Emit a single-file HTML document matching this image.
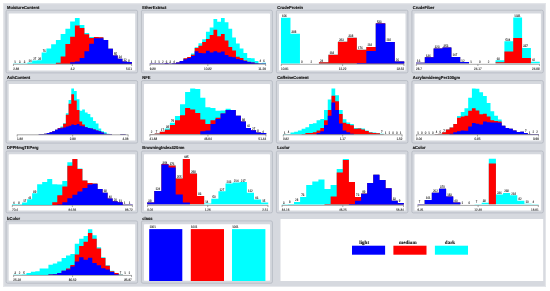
<!DOCTYPE html>
<html><head><meta charset="utf-8"><title>Attribute histograms</title>
<style>html,body{margin:0;padding:0;background:#fff;overflow:hidden}svg{display:block}text{font-family:"Liberation Sans",sans-serif;text-rendering:geometricPrecision}.t{font-weight:bold;font-size:4.3px;fill:#111;stroke:#111;stroke-width:0.12px}.n{font-size:3.5px;fill:#000;stroke:#000;stroke-width:0.06px}.a{font-size:3.6px;fill:#000;stroke:#000;stroke-width:0.07px}.l{font-family:"Liberation Serif",serif;font-weight:bold;font-size:5px;fill:#111;stroke:#111;stroke-width:0.1px}</style></head><body>
<svg width="550" height="291" viewBox="0 0 550 291">
<defs><clipPath id="c0"><rect x="0" y="0" width="550" height="70.6"/></clipPath><clipPath id="c1"><rect x="0" y="0" width="550" height="140.8"/></clipPath><clipPath id="c2"><rect x="0" y="0" width="550" height="210.8"/></clipPath><clipPath id="c3"><rect x="0" y="0" width="550" height="280.9"/></clipPath></defs>
<defs><filter id="bl" x="-5%" y="-10%" width="110%" height="120%"><feGaussianBlur stdDeviation="0.6"/></filter></defs>
<rect width="550" height="291" fill="#fff"/>
<rect x="3.3" y="3.2" width="542.6" height="283.8" fill="#d6d9df"/>
<rect x="3.8" y="3.7" width="541.6" height="282.8" fill="none" stroke="#e4e6ea" stroke-width="1"/>
<rect x="6.1" y="10.2" width="131.5" height="62.7" rx="1.5" fill="#d5d8de" stroke="#a8adb7" stroke-width="0.6"/>
<rect x="8.7" y="13.5" width="126.5" height="56.9" rx="0.6" fill="#fff" filter="url(#bl)"/>
<text class="t" x="7" y="8.6" textLength="32.26" lengthAdjust="spacingAndGlyphs">MoistureContent</text>
<path d="M13.15 63.8V63.5H17.9V63.4H22.65V63.4H27.4V62.4H32.15V60.6H36.9V60.2H41.65V52.6H46.4V48.5H51.15V44.3H55.9V40.1H60.65V33.9H65.4V28.8H70.15V21.5H74.9V17.9H79.65V25.1H84.4V32.9H89.15V37.1H93.9V37H98.65V37.2H103.4V40.1H108.15V48.8H112.9V55.5H117.65V58.7H122.4V61.5H127.15V62.1H131.9V63.8Z" fill="#00ffff"/>
<path d="M55.9 63.8V62.8H60.65V56.4H65.4V44.1H70.15V36.7H74.9V25.5H79.65V28.1H84.4V34.3H89.15V38.1H93.9V37H98.65V37.2H103.4V40.1H108.15V48.8H112.9V55.5H117.65V58.7H122.4V61.5H127.15V62.1H131.9V63.8Z" fill="#ff0000"/>
<path d="M70.15 63.8V62.3H74.9V61.5H79.65V57.9H84.4V51.3H89.15V43.8H93.9V38.3H98.65V38.3H103.4V40.1H108.15V48.8H112.9V55.5H117.65V58.7H122.4V61.5H127.15V62.1H131.9V63.8Z" fill="#0000ff"/>
<text class="n" x="14.25" y="62.9" textLength="1.6" lengthAdjust="spacingAndGlyphs">1</text>
<text class="n" x="19" y="62.8" textLength="1.6" lengthAdjust="spacingAndGlyphs">3</text>
<text class="n" x="23.75" y="62.8" textLength="1.6" lengthAdjust="spacingAndGlyphs">3</text>
<text class="n" x="28.5" y="61.8" textLength="3.2" lengthAdjust="spacingAndGlyphs">14</text>
<text class="n" x="33.25" y="60" textLength="3.2" lengthAdjust="spacingAndGlyphs">27</text>
<text class="n" x="38" y="59.6" textLength="3.2" lengthAdjust="spacingAndGlyphs">28</text>
<text class="n" x="42.75" y="52" textLength="3.2" lengthAdjust="spacingAndGlyphs">76</text>
<text class="n" x="114" y="54.9" textLength="3.2" lengthAdjust="spacingAndGlyphs">55</text>
<text class="n" x="118.75" y="58.1" textLength="3.2" lengthAdjust="spacingAndGlyphs">34</text>
<text class="n" x="123.5" y="60.9" textLength="3.2" lengthAdjust="spacingAndGlyphs">12</text>
<text class="n" x="128.25" y="61.5" textLength="1.6" lengthAdjust="spacingAndGlyphs">8</text>
<path d="M13.15 64.3H131.9M13.45 64.3v1.7M72.53 64.3v1.7M131.6 64.3v1.7" stroke="#505050" stroke-width="0.5" fill="none"/>
<g clip-path="url(#c0)">
<text class="a" x="13.15" y="69.8" textLength="5.95" lengthAdjust="spacingAndGlyphs">2.88</text>
<text class="a" x="70.4" y="69.8" textLength="4.25" lengthAdjust="spacingAndGlyphs">4.2</text>
<text class="a" x="125.95" y="69.8" textLength="5.95" lengthAdjust="spacingAndGlyphs">5.51</text>
</g>
<rect x="141.4" y="10.2" width="131" height="62.7" rx="1.5" fill="#d5d8de" stroke="#a8adb7" stroke-width="0.6"/>
<rect x="144" y="13.5" width="126" height="56.9" rx="0.6" fill="#fff" filter="url(#bl)"/>
<text class="t" x="142.3" y="8.6" textLength="24.16" lengthAdjust="spacingAndGlyphs">EtherExtract</text>
<path d="M149.7 63.8V63.6H153.45V63.5H157.2V63.6H160.95V63.5H164.7V63.2H168.45V63.4H172.2V63.3H175.95V62.6H179.7V61.1H183.45V58.3H187.2V57.1H190.95V53.6H194.7V47.3H198.45V43.2H202.2V39.2H205.95V31.8H209.7V27.4H213.45V18.9H217.2V21.7H220.95V17.9H224.7V22.3H228.45V28.8H232.2V37.4H235.95V43.6H239.7V48.4H243.45V52.9H247.2V58H250.95V58.3H254.7V61.1H258.45V63H262.2V62.8H265.95V63.8Z" fill="#00ffff"/>
<path d="M149.7 63.8V63.6H153.45V63.5H157.2V63.6H160.95V63.5H164.7V63.2H168.45V63.4H172.2V63.3H175.95V62.6H179.7V61.1H183.45V58.3H187.2V57.1H190.95V54.8H194.7V48H198.45V45.8H202.2V42.1H205.95V39H209.7V35H213.45V29.7H217.2V36.2H220.95V33.9H224.7V40.6H228.45V46.9H232.2V50.6H235.95V56.8H239.7V58.1H243.45V60.4H247.2V61.8H250.95V62.4H254.7V63.2H258.45V63.5H262.2V63.5H265.95V63.8Z" fill="#ff0000"/>
<path d="M149.7 63.8V63.6H153.45V63.5H157.2V63.6H160.95V63.5H164.7V63.2H168.45V63.4H172.2V63.3H175.95V62.6H179.7V61.1H183.45V59.3H187.2V58.1H190.95V55.9H194.7V51.3H198.45V53.1H202.2V53.2H205.95V50.7H209.7V52.6H213.45V51.3H217.2V52.4H220.95V51.6H224.7V55H228.45V56.8H232.2V57.3H235.95V59H239.7V60.1H243.45V61.1H247.2V61.9H250.95V62.4H254.7V63.2H258.45V63.5H262.2V63.5H265.95V63.8Z" fill="#0000ff"/>
<text class="n" x="150.8" y="63" textLength="1.6" lengthAdjust="spacingAndGlyphs">1</text>
<text class="n" x="154.55" y="62.9" textLength="1.6" lengthAdjust="spacingAndGlyphs">2</text>
<text class="n" x="158.3" y="63" textLength="1.6" lengthAdjust="spacingAndGlyphs">1</text>
<text class="n" x="162.05" y="62.9" textLength="1.6" lengthAdjust="spacingAndGlyphs">2</text>
<text class="n" x="165.8" y="62.6" textLength="1.6" lengthAdjust="spacingAndGlyphs">6</text>
<text class="n" x="169.55" y="62.8" textLength="1.6" lengthAdjust="spacingAndGlyphs">3</text>
<text class="n" x="173.3" y="62.7" textLength="1.6" lengthAdjust="spacingAndGlyphs">4</text>
<text class="n" x="259.55" y="62.4" textLength="1.6" lengthAdjust="spacingAndGlyphs">4</text>
<text class="n" x="263.3" y="62.2" textLength="1.6" lengthAdjust="spacingAndGlyphs">6</text>
<path d="M149.7 64.3H265.95M150 64.3v1.7M207.82 64.3v1.7M265.65 64.3v1.7" stroke="#505050" stroke-width="0.5" fill="none"/>
<g clip-path="url(#c0)">
<text class="a" x="149.7" y="69.8" textLength="5.95" lengthAdjust="spacingAndGlyphs">9.38</text>
<text class="a" x="204" y="69.8" textLength="7.65" lengthAdjust="spacingAndGlyphs">10.32</text>
<text class="a" x="258.3" y="69.8" textLength="7.65" lengthAdjust="spacingAndGlyphs">11.26</text>
</g>
<rect x="276.4" y="10.2" width="131.5" height="62.7" rx="1.5" fill="#d5d8de" stroke="#a8adb7" stroke-width="0.6"/>
<rect x="279" y="13.5" width="126.5" height="56.9" rx="0.6" fill="#fff" filter="url(#bl)"/>
<text class="t" x="277.3" y="8.6" textLength="25.72" lengthAdjust="spacingAndGlyphs">CrudeProtein</text>
<path d="M281 63.4V17.8H290.48V33.8H299.96V63.4ZM318.92 63.4V62.2H328.4V54.8H337.88V41.8H347.36V37.7H356.84V49.8H366.32V47H375.8V23.3H385.28V41.9H394.76V61.6H404.24V63.4Z" fill="#00ffff"/>
<path d="M318.92 63.4V62.2H328.4V54.8H337.88V41.8H347.36V37.7H356.84V49.8H366.32V47H375.8V23.3H385.28V41.9H394.76V61.6H404.24V63.4Z" fill="#ff0000"/>
<path d="M356.84 63.4V63.1H366.32V51.1H375.8V23.6H385.28V41.9H394.76V61.6H404.24V63.4Z" fill="#0000ff"/>
<text class="n" x="282.1" y="17.2" textLength="4.8" lengthAdjust="spacingAndGlyphs">606</text>
<text class="n" x="291.58" y="33.2" textLength="4.8" lengthAdjust="spacingAndGlyphs">388</text>
<text class="n" x="301.06" y="62.8" textLength="1.6" lengthAdjust="spacingAndGlyphs">0</text>
<text class="n" x="310.54" y="62.8" textLength="1.6" lengthAdjust="spacingAndGlyphs">2</text>
<text class="n" x="320.02" y="61.6" textLength="3.2" lengthAdjust="spacingAndGlyphs">24</text>
<text class="n" x="329.5" y="54.2" textLength="4.8" lengthAdjust="spacingAndGlyphs">118</text>
<text class="n" x="338.98" y="41.2" textLength="4.8" lengthAdjust="spacingAndGlyphs">283</text>
<text class="n" x="348.46" y="37.1" textLength="4.8" lengthAdjust="spacingAndGlyphs">338</text>
<text class="n" x="357.94" y="49.2" textLength="4.8" lengthAdjust="spacingAndGlyphs">176</text>
<text class="n" x="367.42" y="46.4" textLength="4.8" lengthAdjust="spacingAndGlyphs">218</text>
<text class="n" x="376.9" y="22.7" textLength="4.8" lengthAdjust="spacingAndGlyphs">533</text>
<text class="n" x="386.38" y="41.3" textLength="4.8" lengthAdjust="spacingAndGlyphs">282</text>
<text class="n" x="395.86" y="61" textLength="3.2" lengthAdjust="spacingAndGlyphs">26</text>
<path d="M281 64.3H404.24M281.3 64.3v1.7M342.62 64.3v1.7M403.94 64.3v1.7" stroke="#505050" stroke-width="0.5" fill="none"/>
<g clip-path="url(#c0)">
<text class="a" x="281" y="69.8" textLength="7.65" lengthAdjust="spacingAndGlyphs">10.91</text>
<text class="a" x="338.8" y="69.8" textLength="7.65" lengthAdjust="spacingAndGlyphs">12.22</text>
<text class="a" x="396.59" y="69.8" textLength="7.65" lengthAdjust="spacingAndGlyphs">13.52</text>
</g>
<rect x="411.9" y="10.2" width="131.4" height="62.7" rx="1.5" fill="#d5d8de" stroke="#a8adb7" stroke-width="0.6"/>
<rect x="414.5" y="13.5" width="126.4" height="56.9" rx="0.6" fill="#fff" filter="url(#bl)"/>
<text class="t" x="412.8" y="8.6" textLength="21.66" lengthAdjust="spacingAndGlyphs">CrudeFiber</text>
<path d="M416 63.2V62.8H424.84V57.2H433.68V48.6H442.52V47.6H451.36V57H460.2V62.1H469.04V63.2ZM495.56 63.2V60.3H504.4V41.2H513.24V17.4H522.08V47.9H530.92V61.7H539.76V63.2Z" fill="#00ffff"/>
<path d="M416 63.2V62.8H424.84V57.2H433.68V48.6H442.52V47.6H451.36V57H460.2V62.1H469.04V63.2ZM495.56 63.2V62.3H504.4V51.4H513.24V38H522.08V58.1H530.92V63.2Z" fill="#ff0000"/>
<path d="M416 63.2V62.8H424.84V57.2H433.68V48.6H442.52V47.6H451.36V57H460.2V62.1H469.04V63.2Z" fill="#0000ff"/>
<text class="n" x="417.1" y="62.2" textLength="3.2" lengthAdjust="spacingAndGlyphs">16</text>
<text class="n" x="425.94" y="56.6" textLength="4.8" lengthAdjust="spacingAndGlyphs">136</text>
<text class="n" x="434.78" y="48" textLength="4.8" lengthAdjust="spacingAndGlyphs">323</text>
<text class="n" x="443.62" y="47" textLength="4.8" lengthAdjust="spacingAndGlyphs">353</text>
<text class="n" x="452.46" y="56.4" textLength="4.8" lengthAdjust="spacingAndGlyphs">147</text>
<text class="n" x="461.3" y="61.5" textLength="3.2" lengthAdjust="spacingAndGlyphs">12</text>
<text class="n" x="470.14" y="62.6" textLength="1.6" lengthAdjust="spacingAndGlyphs">1</text>
<text class="n" x="478.98" y="62.6" textLength="1.6" lengthAdjust="spacingAndGlyphs">0</text>
<text class="n" x="487.82" y="62.6" textLength="1.6" lengthAdjust="spacingAndGlyphs">2</text>
<text class="n" x="496.66" y="59.7" textLength="3.2" lengthAdjust="spacingAndGlyphs">60</text>
<text class="n" x="505.5" y="40.6" textLength="4.8" lengthAdjust="spacingAndGlyphs">504</text>
<text class="n" x="514.34" y="16.8" textLength="6.4" lengthAdjust="spacingAndGlyphs">1031</text>
<text class="n" x="523.18" y="47.3" textLength="4.8" lengthAdjust="spacingAndGlyphs">337</text>
<text class="n" x="532.02" y="61.1" textLength="3.2" lengthAdjust="spacingAndGlyphs">42</text>
<path d="M416 64.3H539.76M416.3 64.3v1.7M477.88 64.3v1.7M539.46 64.3v1.7" stroke="#505050" stroke-width="0.5" fill="none"/>
<g clip-path="url(#c0)">
<text class="a" x="416" y="69.8" textLength="5.95" lengthAdjust="spacingAndGlyphs">23.7</text>
<text class="a" x="474.06" y="69.8" textLength="7.65" lengthAdjust="spacingAndGlyphs">24.17</text>
<text class="a" x="532.11" y="69.8" textLength="7.65" lengthAdjust="spacingAndGlyphs">24.63</text>
</g>
<rect x="6.1" y="80.6" width="131.5" height="62.5" rx="1.5" fill="#d5d8de" stroke="#a8adb7" stroke-width="0.6"/>
<rect x="8.7" y="83.9" width="126.5" height="56.7" rx="0.6" fill="#fff" filter="url(#bl)"/>
<text class="t" x="7" y="78.9" textLength="23.01" lengthAdjust="spacingAndGlyphs">AshContent</text>
<path d="M38.66 134.3V134.1H41.38V134.1H44.1V133.8H46.82V133H49.54V132.35H52.26V131.3H54.98V129.8H57.7V127.9H60.42V126.6H63.14V123.2H65.86V113.2H68.58V99.9H71.3V88.5H74.02V91H76.74V99.3H79.46V110.7H82.18V109.5H84.9V112.6H87.62V113.9H90.34V117.2H93.06V120.9H95.78V123.4H98.5V128.5H101.22V131.3H103.94V132.35H106.66V133.8H109.38V133.9H112.1V134.3ZM120.26 134.3V134H122.98V134H125.7V134.3Z" fill="#00ffff"/>
<path d="M38.66 134.3V134.1H41.38V134.1H44.1V133.8H46.82V133H49.54V132.35H52.26V131.3H54.98V129.8H57.7V127.9H60.42V127.5H63.14V123.8H65.86V114.7H68.58V103.7H71.3V94.2H74.02V100.5H76.74V110.1H79.46V121.5H82.18V124.5H84.9V127.3H87.62V127.9H90.34V128.5H93.06V129.4H95.78V130.4H98.5V131.3H101.22V132.6H103.94V133.7H106.66V134H109.38V134.1H112.1V134.3ZM120.26 134.3V134H122.98V134H125.7V134.3Z" fill="#ff0000"/>
<path d="M38.66 134.3V134.1H41.38V134.1H44.1V133.8H46.82V133H49.54V132.35H52.26V131.3H54.98V129.8H57.7V128.5H60.42V128.3H63.14V127.5H65.86V126.6H68.58V125.7H71.3V124.6H74.02V125H76.74V124.1H79.46V125.7H82.18V126.2H84.9V127.3H87.62V127.9H90.34V128.5H93.06V129.4H95.78V130.4H98.5V131.3H101.22V132.6H103.94V133.7H106.66V134H109.38V134.1H112.1V134.3ZM120.26 134.3V134H122.98V134H125.7V134.3Z" fill="#0000ff"/>
<path d="M16.9 134.8H128.42M17.2 134.8v1.7M72.66 134.8v1.7M128.12 134.8v1.7" stroke="#505050" stroke-width="0.5" fill="none"/>
<g clip-path="url(#c1)">
<text class="a" x="16.9" y="140.3" textLength="5.95" lengthAdjust="spacingAndGlyphs">1.88</text>
<text class="a" x="69.69" y="140.3" textLength="5.95" lengthAdjust="spacingAndGlyphs">2.98</text>
<text class="a" x="122.47" y="140.3" textLength="5.95" lengthAdjust="spacingAndGlyphs">4.08</text>
</g>
<rect x="141.4" y="80.6" width="131" height="62.5" rx="1.5" fill="#d5d8de" stroke="#a8adb7" stroke-width="0.6"/>
<rect x="144" y="83.9" width="126" height="56.7" rx="0.6" fill="#fff" filter="url(#bl)"/>
<text class="t" x="142.3" y="78.9" textLength="8.12" lengthAdjust="spacingAndGlyphs">NFE</text>
<path d="M149.6 134.3V134H154.67V133.6H159.74V131.7H164.81V128.5H169.88V122.8H174.95V116H180.02V104.2H185.09V91.9H190.16V88.5H195.23V89.1H200.3V97.7H205.37V107.2H210.44V107.9H215.51V110.8H220.58V110.6H225.65V108.8H230.72V110.1H235.79V115.8H240.86V121.5H245.93V127.9H251V130.2H256.07V132.6H261.14V133.1H266.21V134.3Z" fill="#00ffff"/>
<path d="M149.6 134.3V134H154.67V133.6H159.74V131.7H164.81V129.8H169.88V125H174.95V120.3H180.02V115.2H185.09V108H190.16V109.5H195.23V113H200.3V119.6H205.37V124.1H210.44V120.3H215.51V117.7H220.58V113.4H225.65V110.1H230.72V110.1H235.79V115.8H240.86V121.5H245.93V127.9H251V130.2H256.07V132.6H261.14V133.1H266.21V134.3Z" fill="#ff0000"/>
<path d="M200.3 134.3V131.3H205.37V130.4H210.44V124.1H215.51V119H220.58V113.4H225.65V110.1H230.72V110.1H235.79V115.8H240.86V121.5H245.93V127.9H251V130.2H256.07V132.6H261.14V133.1H266.21V134.3Z" fill="#0000ff"/>
<text class="n" x="150.7" y="133.4" textLength="1.6" lengthAdjust="spacingAndGlyphs">2</text>
<text class="n" x="155.77" y="133" textLength="1.6" lengthAdjust="spacingAndGlyphs">7</text>
<text class="n" x="160.84" y="131.1" textLength="3.2" lengthAdjust="spacingAndGlyphs">17</text>
<text class="n" x="165.91" y="127.9" textLength="3.2" lengthAdjust="spacingAndGlyphs">39</text>
<text class="n" x="170.98" y="122.2" textLength="3.2" lengthAdjust="spacingAndGlyphs">79</text>
<text class="n" x="241.96" y="120.9" textLength="3.2" lengthAdjust="spacingAndGlyphs">88</text>
<text class="n" x="247.03" y="127.3" textLength="3.2" lengthAdjust="spacingAndGlyphs">42</text>
<text class="n" x="252.1" y="129.6" textLength="3.2" lengthAdjust="spacingAndGlyphs">27</text>
<text class="n" x="257.17" y="132" textLength="1.6" lengthAdjust="spacingAndGlyphs">8</text>
<text class="n" x="262.24" y="132.5" textLength="1.6" lengthAdjust="spacingAndGlyphs">4</text>
<path d="M149.6 134.8H266.21M149.9 134.8v1.7M207.91 134.8v1.7M265.91 134.8v1.7" stroke="#505050" stroke-width="0.5" fill="none"/>
<g clip-path="url(#c1)">
<text class="a" x="149.6" y="140.3" textLength="7.65" lengthAdjust="spacingAndGlyphs">41.83</text>
<text class="a" x="204.08" y="140.3" textLength="7.65" lengthAdjust="spacingAndGlyphs">46.64</text>
<text class="a" x="258.56" y="140.3" textLength="7.65" lengthAdjust="spacingAndGlyphs">51.44</text>
</g>
<rect x="276.4" y="80.6" width="131.5" height="62.5" rx="1.5" fill="#d5d8de" stroke="#a8adb7" stroke-width="0.6"/>
<rect x="279" y="83.9" width="126.5" height="56.7" rx="0.6" fill="#fff" filter="url(#bl)"/>
<text class="t" x="277.3" y="78.9" textLength="31.35" lengthAdjust="spacingAndGlyphs">CaffeineContent</text>
<path d="M283 134.3V134.1H286.73V133.9H290.46V132.6H294.19V131.7H297.92V130.4H301.65V128.8H305.38V127.3H309.11V124.1H312.84V123.2H316.57V120.3H320.3V119H324.03V110.1H327.76V99.5H331.49V88.5H335.22V95.2H338.95V110.1H342.68V119.2H346.41V122.4H350.14V124.1H353.87V127.9H357.6V127.9H361.33V128.5H365.06V130.4H368.79V132.1H372.52V132.6H376.25V133H379.98V133.7H383.71V134.2H387.44V134.3Z" fill="#00ffff"/>
<path d="M301.65 134.3V133.9H305.38V133.1H309.11V133H312.84V132.35H316.57V130.4H320.3V127.9H324.03V120.3H327.76V110.1H331.49V95.7H335.22V101.2H338.95V114H342.68V122.8H346.41V124.1H350.14V125.3H353.87V128.8H357.6V128.5H361.33V129.5H365.06V131.1H368.79V132.4H372.52V132.9H376.25V133.2H379.98V133.9H383.71V134.2H387.44V134.3Z" fill="#ff0000"/>
<path d="M316.57 134.3V133H320.3V131.3H324.03V125H327.76V115.8H331.49V102.5H335.22V110.1H338.95V123.4H342.68V130.4H346.41V132.35H350.14V133.8H353.87V134.3Z" fill="#0000ff"/>
<text class="n" x="284.1" y="133.5" textLength="1.6" lengthAdjust="spacingAndGlyphs">1</text>
<text class="n" x="287.83" y="133.3" textLength="1.6" lengthAdjust="spacingAndGlyphs">4</text>
<text class="n" x="381.08" y="133.1" textLength="1.6" lengthAdjust="spacingAndGlyphs">7</text>
<text class="n" x="384.81" y="133.6" textLength="1.6" lengthAdjust="spacingAndGlyphs">1</text>
<text class="n" x="388.54" y="133.7" textLength="1.6" lengthAdjust="spacingAndGlyphs">1</text>
<text class="n" x="392.27" y="133.7" textLength="1.6" lengthAdjust="spacingAndGlyphs">0</text>
<text class="n" x="396" y="133.7" textLength="1.6" lengthAdjust="spacingAndGlyphs">0</text>
<text class="n" x="399.73" y="133.7" textLength="1.6" lengthAdjust="spacingAndGlyphs">1</text>
<path d="M283 134.8H402.36M283.3 134.8v1.7M342.68 134.8v1.7M402.06 134.8v1.7" stroke="#505050" stroke-width="0.5" fill="none"/>
<g clip-path="url(#c1)">
<text class="a" x="283" y="140.3" textLength="5.95" lengthAdjust="spacingAndGlyphs">0.82</text>
<text class="a" x="339.7" y="140.3" textLength="5.95" lengthAdjust="spacingAndGlyphs">1.17</text>
<text class="a" x="396.41" y="140.3" textLength="5.95" lengthAdjust="spacingAndGlyphs">1.52</text>
</g>
<rect x="411.9" y="80.6" width="131.4" height="62.5" rx="1.5" fill="#d5d8de" stroke="#a8adb7" stroke-width="0.6"/>
<rect x="414.5" y="83.9" width="126.4" height="56.7" rx="0.6" fill="#fff" filter="url(#bl)"/>
<text class="t" x="412.8" y="78.9" textLength="47.4" lengthAdjust="spacingAndGlyphs">AcrylamidemgPer100gm</text>
<path d="M434.7 134.3V134H438.42V133.8H442.14V132.35H445.86V129.5H449.58V127.5H453.3V124.1H457.02V116H460.74V112.1H464.46V108.2H468.18V97.7H471.9V88.5H475.62V88.8H479.34V92.3H483.06V96.1H486.78V103.1H490.5V111.2H494.22V115.8H497.94V119.6H501.66V125.7H505.38V127.9H509.1V128.8H512.82V130.4H516.54V132.1H520.26V131.7H523.98V133H527.7V134.1H531.42V134H535.14V134H538.86V134.3Z" fill="#00ffff"/>
<path d="M434.7 134.3V134H438.42V133.8H442.14V132.35H445.86V129.5H449.58V127.5H453.3V124.1H457.02V117.7H460.74V116.4H464.46V115.8H468.18V110.8H471.9V108.2H475.62V110.4H479.34V114.2H483.06V113.7H486.78V116.4H490.5V120.3H494.22V120.9H497.94V121.5H501.66V125.7H505.38V127.9H509.1V128.8H512.82V130.4H516.54V132.1H520.26V131.7H523.98V133H527.7V134.1H531.42V134H535.14V134H538.86V134.3Z" fill="#ff0000"/>
<path d="M449.58 134.3V133.7H453.3V132.35H457.02V131.3H460.74V130.4H464.46V130.8H468.18V126.6H471.9V123.1H475.62V123.8H479.34V124.5H483.06V121.5H486.78V122.2H490.5V122.4H494.22V122.4H497.94V122.8H501.66V125.7H505.38V127.9H509.1V128.8H512.82V130.4H516.54V132.1H520.26V131.7H523.98V133H527.7V134.1H531.42V134H535.14V134H538.86V134.3Z" fill="#0000ff"/>
<text class="n" x="417.2" y="133.7" textLength="1.6" lengthAdjust="spacingAndGlyphs">1</text>
<text class="n" x="420.92" y="133.7" textLength="1.6" lengthAdjust="spacingAndGlyphs">0</text>
<text class="n" x="424.64" y="133.7" textLength="1.6" lengthAdjust="spacingAndGlyphs">0</text>
<text class="n" x="428.36" y="133.7" textLength="1.6" lengthAdjust="spacingAndGlyphs">1</text>
<text class="n" x="432.08" y="133.7" textLength="1.6" lengthAdjust="spacingAndGlyphs">0</text>
<text class="n" x="435.8" y="133.4" textLength="1.6" lengthAdjust="spacingAndGlyphs">4</text>
<text class="n" x="439.52" y="133.2" textLength="1.6" lengthAdjust="spacingAndGlyphs">6</text>
<text class="n" x="443.24" y="131.75" textLength="1.6" lengthAdjust="spacingAndGlyphs">7</text>
<text class="n" x="525.08" y="132.4" textLength="1.6" lengthAdjust="spacingAndGlyphs">7</text>
<text class="n" x="528.8" y="133.5" textLength="1.6" lengthAdjust="spacingAndGlyphs">1</text>
<text class="n" x="532.52" y="133.4" textLength="1.6" lengthAdjust="spacingAndGlyphs">2</text>
<text class="n" x="536.24" y="133.4" textLength="1.6" lengthAdjust="spacingAndGlyphs">2</text>
<path d="M416.1 134.8H538.86M416.4 134.8v1.7M477.48 134.8v1.7M538.56 134.8v1.7" stroke="#505050" stroke-width="0.5" fill="none"/>
<g clip-path="url(#c1)">
<text class="a" x="416.1" y="140.3" textLength="5.95" lengthAdjust="spacingAndGlyphs">0.04</text>
<text class="a" x="474.5" y="140.3" textLength="5.95" lengthAdjust="spacingAndGlyphs">0.35</text>
<text class="a" x="532.91" y="140.3" textLength="5.95" lengthAdjust="spacingAndGlyphs">0.66</text>
</g>
<rect x="6.1" y="151" width="131.5" height="61.9" rx="1.5" fill="#d5d8de" stroke="#a8adb7" stroke-width="0.6"/>
<rect x="8.7" y="154.3" width="126.5" height="56.3" rx="0.6" fill="#fff" filter="url(#bl)"/>
<text class="t" x="7" y="149.4" textLength="31.6" lengthAdjust="spacingAndGlyphs">DPPHmgTEPerg</text>
<path d="M12 204.9V204.6H17.03V204.4H22.06V202.6H27.09V199.2H32.12V193.2H37.15V184.3H42.18V182H47.21V179.1H52.24V184.2H57.27V184.4H62.3V181H67.33V162.3H72.36V159.1H77.39V168.6H82.42V180.4H87.45V183H92.48V183.6H97.51V189H102.54V192.8H107.57V198.5H112.6V201.3H117.63V202.35H122.66V204.7H127.69V204.7H132.72V204.9Z" fill="#00ffff"/>
<path d="M52.24 204.9V202.35H57.27V195.3H62.3V186.6H67.33V165.7H72.36V159.1H77.39V169H82.42V180.4H87.45V183H92.48V183.6H97.51V189H102.54V192.8H107.57V198.5H112.6V201.3H117.63V202.35H122.66V204.7H127.69V204.7H132.72V204.9Z" fill="#ff0000"/>
<path d="M57.27 204.9V204.4H62.3V202.35H67.33V198.3H72.36V194.7H77.39V191.5H82.42V188H87.45V184.5H92.48V184H97.51V189H102.54V192.8H107.57V198.5H112.6V201.3H117.63V202.35H122.66V204.7H127.69V204.7H132.72V204.9Z" fill="#0000ff"/>
<text class="n" x="13.1" y="204" textLength="1.6" lengthAdjust="spacingAndGlyphs">4</text>
<text class="n" x="18.13" y="203.8" textLength="1.6" lengthAdjust="spacingAndGlyphs">8</text>
<text class="n" x="23.16" y="202" textLength="3.2" lengthAdjust="spacingAndGlyphs">17</text>
<text class="n" x="28.19" y="198.6" textLength="3.2" lengthAdjust="spacingAndGlyphs">41</text>
<text class="n" x="33.22" y="192.6" textLength="3.2" lengthAdjust="spacingAndGlyphs">89</text>
<text class="n" x="103.64" y="192.2" textLength="3.2" lengthAdjust="spacingAndGlyphs">68</text>
<text class="n" x="108.67" y="197.9" textLength="3.2" lengthAdjust="spacingAndGlyphs">40</text>
<text class="n" x="113.7" y="200.7" textLength="3.2" lengthAdjust="spacingAndGlyphs">20</text>
<text class="n" x="118.73" y="201.75" textLength="3.2" lengthAdjust="spacingAndGlyphs">11</text>
<text class="n" x="123.76" y="204.1" textLength="1.6" lengthAdjust="spacingAndGlyphs">1</text>
<text class="n" x="128.79" y="204.1" textLength="1.6" lengthAdjust="spacingAndGlyphs">1</text>
<path d="M12 205.4H132.72M12.3 205.4v1.7M72.36 205.4v1.7M132.42 205.4v1.7" stroke="#505050" stroke-width="0.5" fill="none"/>
<g clip-path="url(#c2)">
<text class="a" x="12" y="210.9" textLength="5.95" lengthAdjust="spacingAndGlyphs">70.4</text>
<text class="a" x="68.53" y="210.9" textLength="7.65" lengthAdjust="spacingAndGlyphs">84.56</text>
<text class="a" x="125.07" y="210.9" textLength="7.65" lengthAdjust="spacingAndGlyphs">98.72</text>
</g>
<rect x="141.4" y="151" width="131" height="61.9" rx="1.5" fill="#d5d8de" stroke="#a8adb7" stroke-width="0.6"/>
<rect x="144" y="154.3" width="126" height="56.3" rx="0.6" fill="#fff" filter="url(#bl)"/>
<text class="t" x="142.3" y="149.4" textLength="42.18" lengthAdjust="spacingAndGlyphs">BrowningIndex420nm</text>
<path d="M147.2 204.2V202.4H154.32V191H161.44V164.1H168.56V165.6H175.68V178.6H182.8V159H189.92V173.6H197.04V196H204.16V203.5H211.28V198.7H218.4V191.3H225.52V183.5H232.64V182.5H239.76V182.1H246.88V192.7H254V199.6H261.12V202.4H268.24V204.2Z" fill="#00ffff"/>
<path d="M147.2 204.2V202.4H154.32V191H161.44V164.1H168.56V165.6H175.68V178.6H182.8V159H189.92V173.6H197.04V196H204.16V204.2Z" fill="#ff0000"/>
<path d="M147.2 204.2V202.4H154.32V191H161.44V164.6H168.56V167.6H175.68V194.4H182.8V202.4H189.92V204.2Z" fill="#0000ff"/>
<text class="n" x="148.3" y="201.8" textLength="3.2" lengthAdjust="spacingAndGlyphs">38</text>
<text class="n" x="155.42" y="190.4" textLength="4.8" lengthAdjust="spacingAndGlyphs">124</text>
<text class="n" x="162.54" y="163.5" textLength="4.8" lengthAdjust="spacingAndGlyphs">394</text>
<text class="n" x="169.66" y="165" textLength="4.8" lengthAdjust="spacingAndGlyphs">376</text>
<text class="n" x="176.78" y="178" textLength="4.8" lengthAdjust="spacingAndGlyphs">255</text>
<text class="n" x="183.9" y="158.4" textLength="4.8" lengthAdjust="spacingAndGlyphs">445</text>
<text class="n" x="191.02" y="173" textLength="4.8" lengthAdjust="spacingAndGlyphs">298</text>
<text class="n" x="198.14" y="195.4" textLength="3.2" lengthAdjust="spacingAndGlyphs">83</text>
<text class="n" x="205.26" y="202.9" textLength="3.2" lengthAdjust="spacingAndGlyphs">14</text>
<text class="n" x="212.38" y="198.1" textLength="3.2" lengthAdjust="spacingAndGlyphs">50</text>
<text class="n" x="219.5" y="190.7" textLength="4.8" lengthAdjust="spacingAndGlyphs">127</text>
<text class="n" x="226.62" y="182.9" textLength="4.8" lengthAdjust="spacingAndGlyphs">203</text>
<text class="n" x="233.74" y="181.9" textLength="4.8" lengthAdjust="spacingAndGlyphs">214</text>
<text class="n" x="240.86" y="181.5" textLength="4.8" lengthAdjust="spacingAndGlyphs">217</text>
<text class="n" x="247.98" y="192.1" textLength="4.8" lengthAdjust="spacingAndGlyphs">112</text>
<text class="n" x="255.1" y="199" textLength="3.2" lengthAdjust="spacingAndGlyphs">46</text>
<text class="n" x="262.22" y="201.8" textLength="3.2" lengthAdjust="spacingAndGlyphs">15</text>
<path d="M147.2 205.4H268.24M147.5 205.4v1.7M207.72 205.4v1.7M267.94 205.4v1.7" stroke="#505050" stroke-width="0.5" fill="none"/>
<g clip-path="url(#c2)">
<text class="a" x="147.2" y="210.9" textLength="5.95" lengthAdjust="spacingAndGlyphs">0.02</text>
<text class="a" x="204.75" y="210.9" textLength="5.95" lengthAdjust="spacingAndGlyphs">1.26</text>
<text class="a" x="262.29" y="210.9" textLength="5.95" lengthAdjust="spacingAndGlyphs">2.51</text>
</g>
<rect x="276.4" y="151" width="131.5" height="61.9" rx="1.5" fill="#d5d8de" stroke="#a8adb7" stroke-width="0.6"/>
<rect x="279" y="154.3" width="126.5" height="56.3" rx="0.6" fill="#fff" filter="url(#bl)"/>
<text class="t" x="277.3" y="149.4" textLength="12.41" lengthAdjust="spacingAndGlyphs">Lcolor</text>
<path d="M281.8 204.4V204.2H287.9V204H294V202H300.1V197H306.2V185H312.3V181.6H318.4V179.4H324.5V189H330.6V185H336.7V169H342.8V159H348.9V182H355V197H361.1V193.6H367.2V183H373.3V174.8H379.4V180.1H385.5V188.3H391.6V200.8H397.7V203H403.8V204.4Z" fill="#00ffff"/>
<path d="M324.5 204.4V204H330.6V196.4H336.7V172.6H342.8V160H348.9V182H355V197H361.1V193.6H367.2V183H373.3V174.8H379.4V180.1H385.5V188.3H391.6V200.8H397.7V203H403.8V204.4Z" fill="#ff0000"/>
<path d="M348.9 204.4V204H355V200.8H361.1V193.8H367.2V183H373.3V174.8H379.4V180.1H385.5V188.3H391.6V200.8H397.7V203H403.8V204.4Z" fill="#0000ff"/>
<text class="n" x="282.9" y="203.6" textLength="1.6" lengthAdjust="spacingAndGlyphs">3</text>
<text class="n" x="289" y="203.4" textLength="1.6" lengthAdjust="spacingAndGlyphs">8</text>
<text class="n" x="295.1" y="201.4" textLength="3.2" lengthAdjust="spacingAndGlyphs">28</text>
<text class="n" x="301.2" y="196.4" textLength="3.2" lengthAdjust="spacingAndGlyphs">73</text>
<text class="n" x="356.1" y="196.4" textLength="3.2" lengthAdjust="spacingAndGlyphs">73</text>
<text class="n" x="362.2" y="193" textLength="3.2" lengthAdjust="spacingAndGlyphs">99</text>
<text class="n" x="392.7" y="200.2" textLength="3.2" lengthAdjust="spacingAndGlyphs">33</text>
<text class="n" x="398.8" y="202.4" textLength="1.6" lengthAdjust="spacingAndGlyphs">9</text>
<path d="M281.8 205.4H403.8M282.1 205.4v1.7M342.8 205.4v1.7M403.5 205.4v1.7" stroke="#505050" stroke-width="0.5" fill="none"/>
<g clip-path="url(#c2)">
<text class="a" x="281.8" y="210.9" textLength="7.65" lengthAdjust="spacingAndGlyphs">34.16</text>
<text class="a" x="338.98" y="210.9" textLength="7.65" lengthAdjust="spacingAndGlyphs">46.25</text>
<text class="a" x="396.15" y="210.9" textLength="7.65" lengthAdjust="spacingAndGlyphs">58.34</text>
</g>
<rect x="411.9" y="151" width="131.4" height="61.9" rx="1.5" fill="#d5d8de" stroke="#a8adb7" stroke-width="0.6"/>
<rect x="414.5" y="154.3" width="126.4" height="56.3" rx="0.6" fill="#fff" filter="url(#bl)"/>
<text class="t" x="412.8" y="149.4" textLength="12.86" lengthAdjust="spacingAndGlyphs">aColor</text>
<path d="M417.6 204.2V203.9H424.72V199.9H431.84V192.8H438.96V188.8H446.08V196.5H453.2V202.4H460.32V204.2ZM474.56 204.2V203.9H481.68V202.8H488.8V158.8H495.92V194.6H503.04V192.9H510.16V195.2H517.28V200.7H524.4V203.7H531.52V204H538.64V204.2Z" fill="#00ffff"/>
<path d="M417.6 204.2V203.9H424.72V199.9H431.84V192.8H438.96V188.8H446.08V196.5H453.2V202.4H460.32V204.2ZM488.8 204.2V163.6H495.92V204.2Z" fill="#ff0000"/>
<path d="M417.6 204.2V203.9H424.72V199.9H431.84V192.8H438.96V188.8H446.08V196.5H453.2V202.4H460.32V204.2Z" fill="#0000ff"/>
<text class="n" x="418.7" y="203.3" textLength="1.6" lengthAdjust="spacingAndGlyphs">7</text>
<text class="n" x="425.82" y="199.3" textLength="4.8" lengthAdjust="spacingAndGlyphs">101</text>
<text class="n" x="432.94" y="192.2" textLength="4.8" lengthAdjust="spacingAndGlyphs">262</text>
<text class="n" x="440.06" y="188.2" textLength="4.8" lengthAdjust="spacingAndGlyphs">370</text>
<text class="n" x="447.18" y="195.9" textLength="4.8" lengthAdjust="spacingAndGlyphs">183</text>
<text class="n" x="454.3" y="201.8" textLength="3.2" lengthAdjust="spacingAndGlyphs">40</text>
<text class="n" x="461.42" y="203.6" textLength="1.6" lengthAdjust="spacingAndGlyphs">1</text>
<text class="n" x="468.54" y="203.6" textLength="1.6" lengthAdjust="spacingAndGlyphs">0</text>
<text class="n" x="475.66" y="203.3" textLength="1.6" lengthAdjust="spacingAndGlyphs">7</text>
<text class="n" x="482.78" y="202.2" textLength="3.2" lengthAdjust="spacingAndGlyphs">38</text>
<text class="n" x="497.02" y="194" textLength="4.8" lengthAdjust="spacingAndGlyphs">236</text>
<text class="n" x="504.14" y="192.3" textLength="4.8" lengthAdjust="spacingAndGlyphs">268</text>
<text class="n" x="511.26" y="194.6" textLength="4.8" lengthAdjust="spacingAndGlyphs">218</text>
<text class="n" x="518.38" y="200.1" textLength="3.2" lengthAdjust="spacingAndGlyphs">82</text>
<text class="n" x="525.5" y="203.1" textLength="3.2" lengthAdjust="spacingAndGlyphs">10</text>
<text class="n" x="532.62" y="203.4" textLength="1.6" lengthAdjust="spacingAndGlyphs">4</text>
<path d="M417.6 205.4H538.64M417.9 205.4v1.7M478.12 205.4v1.7M538.34 205.4v1.7" stroke="#505050" stroke-width="0.5" fill="none"/>
<g clip-path="url(#c2)">
<text class="a" x="417.6" y="210.9" textLength="5.95" lengthAdjust="spacingAndGlyphs">6.31</text>
<text class="a" x="474.3" y="210.9" textLength="7.65" lengthAdjust="spacingAndGlyphs">12.46</text>
<text class="a" x="530.99" y="210.9" textLength="7.65" lengthAdjust="spacingAndGlyphs">18.61</text>
</g>
<rect x="6.1" y="220.9" width="131.5" height="62.3" rx="1.5" fill="#d5d8de" stroke="#a8adb7" stroke-width="0.6"/>
<rect x="8.7" y="224.2" width="126.5" height="56.5" rx="0.6" fill="#fff" filter="url(#bl)"/>
<text class="t" x="7" y="219.5" textLength="13.08" lengthAdjust="spacingAndGlyphs">bColor</text>
<path d="M13.3 274.9V274.7H17.69V274.7H22.08V274.6H26.47V273H30.86V271.7H35.25V271.3H39.64V268.5H44.03V268.5H48.42V264.7H52.81V263.4H57.2V261.5H61.59V257.9H65.98V255.4H70.37V254.1H74.76V243.7H79.15V238.8H83.54V236.1H87.93V229.3H92.32V235.2H96.71V247.3H101.1V257.2H105.49V265.3H109.88V270.8H114.27V273H118.66V274.6H123.05V274.9Z" fill="#00ffff"/>
<path d="M48.42 274.9V274.6H52.81V274.3H57.2V273H61.59V270.8H65.98V268.5H70.37V265H74.76V254.4H79.15V245.9H83.54V241.8H87.93V232.9H92.32V238.8H96.71V248.6H101.1V258.1H105.49V265.7H109.88V271.3H114.27V273.1H118.66V274.7H123.05V274.9Z" fill="#ff0000"/>
<path d="M48.42 274.9V274.6H52.81V274.3H57.2V273H61.59V270.8H65.98V269.5H70.37V266.4H74.76V261.5H79.15V257.3H83.54V259.8H87.93V257.7H92.32V263.1H96.71V265.3H101.1V268.3H105.49V269.5H109.88V272.1H114.27V274.3H118.66V274.9Z" fill="#0000ff"/>
<text class="n" x="14.4" y="274.1" textLength="1.6" lengthAdjust="spacingAndGlyphs">3</text>
<text class="n" x="18.79" y="274.1" textLength="1.6" lengthAdjust="spacingAndGlyphs">2</text>
<text class="n" x="23.18" y="274" textLength="1.6" lengthAdjust="spacingAndGlyphs">5</text>
<text class="n" x="119.76" y="274" textLength="1.6" lengthAdjust="spacingAndGlyphs">7</text>
<text class="n" x="124.15" y="274.3" textLength="1.6" lengthAdjust="spacingAndGlyphs">1</text>
<text class="n" x="128.54" y="274.3" textLength="1.6" lengthAdjust="spacingAndGlyphs">1</text>
<path d="M13.3 275.4H131.83M13.6 275.4v1.7M72.56 275.4v1.7M131.53 275.4v1.7" stroke="#505050" stroke-width="0.5" fill="none"/>
<g clip-path="url(#c3)">
<text class="a" x="13.3" y="280.9" textLength="7.65" lengthAdjust="spacingAndGlyphs">25.18</text>
<text class="a" x="68.74" y="280.9" textLength="7.65" lengthAdjust="spacingAndGlyphs">30.52</text>
<text class="a" x="124.18" y="280.9" textLength="7.65" lengthAdjust="spacingAndGlyphs">35.87</text>
</g>
<rect x="141.4" y="220.9" width="131" height="62.3" rx="1.5" fill="#d5d8de" stroke="#a8adb7" stroke-width="0.6"/>
<rect x="144" y="224.2" width="126" height="56.5" rx="0.6" fill="#fff" filter="url(#bl)"/>
<text class="t" x="142.3" y="219.5" textLength="10.17" lengthAdjust="spacingAndGlyphs">class</text>
<rect x="149.2" y="229.1" width="33.1" height="51.9" fill="#0000ff"/>
<text class="n" x="149.4" y="228.4" textLength="6.4" lengthAdjust="spacingAndGlyphs">1001</text>
<rect x="190.8" y="229.1" width="33.2" height="51.9" fill="#ff0000"/>
<text class="n" x="191" y="228.4" textLength="6.4" lengthAdjust="spacingAndGlyphs">1001</text>
<rect x="232" y="229.1" width="33.4" height="51.9" fill="#00ffff"/>
<text class="n" x="232.2" y="228.4" textLength="6.4" lengthAdjust="spacingAndGlyphs">1001</text>
<rect x="280.5" y="219" width="262.7" height="62" fill="#fff"/>
<rect x="352" y="245.7" width="33.1" height="9" fill="#0000ff"/>
<text class="l" text-anchor="middle" x="364.2" y="243.7">light</text>
<rect x="393.4" y="245.7" width="33.1" height="9" fill="#ff0000"/>
<text class="l" text-anchor="middle" x="407.8" y="243.7">medium</text>
<rect x="434.9" y="245.7" width="33.1" height="9" fill="#00ffff"/>
<text class="l" text-anchor="middle" x="450" y="243.7">dark</text>
</svg></body></html>
